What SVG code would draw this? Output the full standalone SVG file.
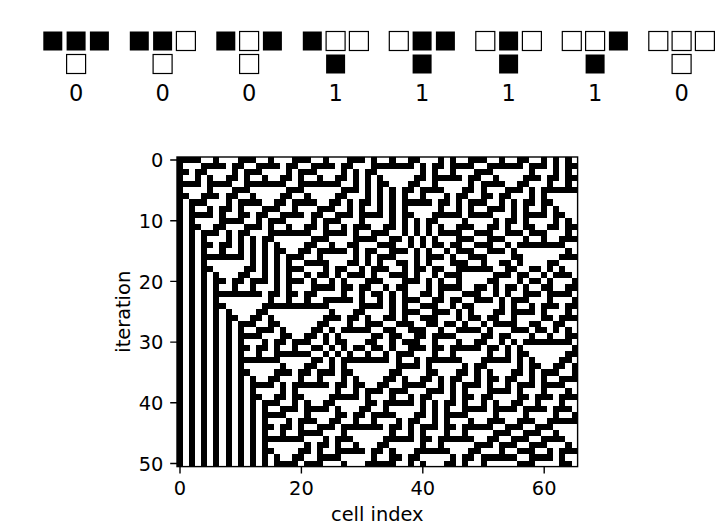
<svg xmlns="http://www.w3.org/2000/svg" width="720" height="528" viewBox="0 0 720 528">
<style>
text{font-family:"DejaVu Sans","Liberation Sans",sans-serif;fill:#000}
.tk{font-size:19.4px}
.lg{font-size:22.5px;text-anchor:middle}
.w{fill:#fff;stroke:#000;stroke-width:1.2}
.b{fill:#000}
.ax{stroke:#000;stroke-width:1.4;fill:none}
.ca{fill:none;stroke:#000;stroke-width:1;shape-rendering:crispEdges}
</style>
<defs>
<rect id="sq" width="19" height="19"/>
</defs>
<rect width="720" height="528" fill="#fff"/>
<g id="rule-111" transform="translate(43.3,31.5)"><use href="#sq" class="b"/><use href="#sq" x="23.3" class="b"/><use href="#sq" x="46.6" class="b"/><use href="#sq" x="23.3" y="23" class="w"/><text class="lg" x="32.8" y="69.5">0</text></g>
<g id="rule-110" transform="translate(129.8,31.5)"><use href="#sq" class="b"/><use href="#sq" x="23.3" class="b"/><use href="#sq" x="46.6" class="w"/><use href="#sq" x="23.3" y="23" class="w"/><text class="lg" x="32.8" y="69.5">0</text></g>
<g id="rule-101" transform="translate(216.3,31.5)"><use href="#sq" class="b"/><use href="#sq" x="23.3" class="w"/><use href="#sq" x="46.6" class="b"/><use href="#sq" x="23.3" y="23" class="w"/><text class="lg" x="32.8" y="69.5">0</text></g>
<g id="rule-100" transform="translate(302.8,31.5)"><use href="#sq" class="b"/><use href="#sq" x="23.3" class="w"/><use href="#sq" x="46.6" class="w"/><use href="#sq" x="23.3" y="23" class="b"/><text class="lg" x="32.8" y="69.5">1</text></g>
<g id="rule-011" transform="translate(389.3,31.5)"><use href="#sq" class="w"/><use href="#sq" x="23.3" class="b"/><use href="#sq" x="46.6" class="b"/><use href="#sq" x="23.3" y="23" class="b"/><text class="lg" x="32.8" y="69.5">1</text></g>
<g id="rule-010" transform="translate(475.8,31.5)"><use href="#sq" class="w"/><use href="#sq" x="23.3" class="b"/><use href="#sq" x="46.6" class="w"/><use href="#sq" x="23.3" y="23" class="b"/><text class="lg" x="32.8" y="69.5">1</text></g>
<g id="rule-001" transform="translate(562.3,31.5)"><use href="#sq" class="w"/><use href="#sq" x="23.3" class="w"/><use href="#sq" x="46.6" class="b"/><use href="#sq" x="23.3" y="23" class="b"/><text class="lg" x="32.8" y="69.5">1</text></g>
<g id="rule-000" transform="translate(648.8,31.5)"><use href="#sq" class="w"/><use href="#sq" x="23.3" class="w"/><use href="#sq" x="46.6" class="w"/><use href="#sq" x="23.3" y="23" class="w"/><text class="lg" x="32.8" y="69.5">0</text></g>
<g id="plot">
<rect x="177" y="157" width="400.6" height="309.6" fill="#fff"/>
<g id="cells" transform="translate(177,157) scale(6.07)">
<path class="ca" d="M0 .5h4M6 .5h1M10 .5h3M15 .5h1M19 .5h3M24 .5h1M28 .5h3M32 .5h1M35 .5h1M38 .5h2M43 .5h1M45 .5h1M48 .5h3M53 .5h1M56 .5h2M60 .5h1M62 .5h1M64 .5h1
M0 1.5h1M4 1.5h4M9 1.5h2M13 1.5h4M18 1.5h2M22 1.5h4M27 1.5h2M32 1.5h7M40 1.5h1M42 1.5h2M45 1.5h4M51 1.5h6M58 1.5h3M62 1.5h1M64 1.5h2
M0 2.5h2M3 2.5h2M9 2.5h1M11 2.5h3M18 2.5h1M20 2.5h3M27 2.5h1M29 2.5h1M31 2.5h2M40 2.5h1M42 2.5h1M45 2.5h1M49 2.5h3M58 2.5h1M62 2.5h1M64 2.5h1
M0 3.5h1M3 3.5h1M5 3.5h1M8 3.5h2M11 3.5h1M14 3.5h1M17 3.5h2M20 3.5h1M23 3.5h1M26 3.5h2M29 3.5h1M31 3.5h1M33 3.5h1M39 3.5h2M42 3.5h5M48 3.5h2M52 3.5h1M57 3.5h3M61 3.5h2M64 3.5h2
M0 4.5h4M5 4.5h4M11 4.5h7M20 4.5h7M29 4.5h1M31 4.5h1M33 4.5h2M38 4.5h2M42 4.5h1M48 4.5h1M50 4.5h4M56 4.5h2M61 4.5h1M64 4.5h1
M0 5.5h1M5 5.5h1M9 5.5h3M18 5.5h3M27 5.5h3M31 5.5h1M33 5.5h1M35 5.5h1M37 5.5h2M40 5.5h4M47 5.5h2M50 5.5h1M54 5.5h3M58 5.5h1M60 5.5h6
M0 6.5h2M4 6.5h3M8 6.5h2M12 6.5h1M17 6.5h2M21 6.5h1M26 6.5h2M31 6.5h1M33 6.5h1M35 6.5h1M37 6.5h1M40 6.5h1M44 6.5h1M46 6.5h2M50 6.5h2M53 6.5h2M58 6.5h1M60 6.5h1
M0 7.5h1M2 7.5h3M8 7.5h1M10 7.5h4M16 7.5h2M19 7.5h4M25 7.5h2M28 7.5h1M30 7.5h2M33 7.5h1M35 7.5h1M37 7.5h5M43 7.5h2M46 7.5h1M48 7.5h3M53 7.5h1M55 7.5h1M57 7.5h2M60 7.5h2
M0 8.5h1M2 8.5h1M5 8.5h1M7 8.5h2M10 8.5h1M14 8.5h3M19 8.5h1M23 8.5h3M28 8.5h1M30 8.5h1M33 8.5h1M35 8.5h1M37 8.5h1M43 8.5h1M46 8.5h1M48 8.5h1M51 8.5h3M55 8.5h1M57 8.5h1M60 8.5h1M62 8.5h1
M0 9.5h1M2 9.5h4M7 9.5h1M10 9.5h2M13 9.5h2M17 9.5h4M22 9.5h2M26 9.5h3M30 9.5h4M35 9.5h1M37 9.5h2M42 9.5h5M48 9.5h4M55 9.5h1M57 9.5h4M62 9.5h2
M0 10.5h1M2 10.5h1M7 10.5h4M13 10.5h1M15 10.5h3M22 10.5h1M24 10.5h3M30 10.5h1M35 10.5h1M37 10.5h1M39 10.5h1M41 10.5h2M47 10.5h1M52 10.5h1M54 10.5h2M57 10.5h1M62 10.5h1M64 10.5h1
M0 11.5h1M2 11.5h2M6 11.5h2M11 11.5h3M15 11.5h1M18 11.5h1M21 11.5h2M24 11.5h1M27 11.5h1M29 11.5h3M34 11.5h2M37 11.5h1M39 11.5h1M41 11.5h1M43 11.5h1M46 11.5h3M51 11.5h2M54 11.5h1M57 11.5h2M61 11.5h2M64 11.5h2
M0 12.5h1M2 12.5h1M4 12.5h3M8 12.5h1M10 12.5h2M15 12.5h7M24 12.5h4M29 12.5h1M32 12.5h3M37 12.5h1M39 12.5h1M41 12.5h1M43 12.5h4M49 12.5h3M54 12.5h3M58 12.5h3M64 12.5h1
M0 13.5h1M2 13.5h1M4 13.5h1M8 13.5h1M10 13.5h1M12 13.5h1M14 13.5h2M22 13.5h3M29 13.5h4M35 13.5h2M38 13.5h1M40 13.5h1M42 13.5h1M46 13.5h3M51 13.5h3M57 13.5h1M60 13.5h1M63 13.5h3
M0 14.5h1M2 14.5h1M4 14.5h2M7 14.5h2M10 14.5h1M12 14.5h1M14 14.5h1M16 14.5h1M21 14.5h2M25 14.5h1M28 14.5h2M33 14.5h3M38 14.5h1M40 14.5h1M42 14.5h2M45 14.5h2M49 14.5h3M54 14.5h1M56 14.5h8
M0 15.5h1M2 15.5h1M4 15.5h1M7 15.5h1M10 15.5h1M12 15.5h1M14 15.5h1M16 15.5h2M20 15.5h2M23 15.5h5M29 15.5h1M31 15.5h2M35 15.5h3M39 15.5h1M41 15.5h1M44 15.5h1M46 15.5h3M51 15.5h3M55 15.5h1M64 15.5h1
M0 16.5h1M2 16.5h1M4 16.5h7M12 16.5h1M14 16.5h1M16 16.5h1M18 16.5h3M23 16.5h1M29 16.5h1M31 16.5h1M33 16.5h3M39 16.5h1M41 16.5h3M45 16.5h1M48 16.5h3M55 16.5h2M63 16.5h3
M0 17.5h1M2 17.5h1M4 17.5h1M12 17.5h1M14 17.5h1M16 17.5h1M18 17.5h1M21 17.5h4M28 17.5h2M31 17.5h1M33 17.5h1M36 17.5h2M39 17.5h1M41 17.5h1M45 17.5h3M50 17.5h1M53 17.5h2M56 17.5h1M61 17.5h2
M0 18.5h1M2 18.5h1M4 18.5h2M11 18.5h2M14 18.5h1M16 18.5h1M18 18.5h3M24 18.5h1M26 18.5h2M30 18.5h1M32 18.5h3M37 18.5h1M39 18.5h2M42 18.5h2M46 18.5h6M54 18.5h2M58 18.5h2M61 18.5h1M63 18.5h1
M0 19.5h1M2 19.5h1M4 19.5h1M6 19.5h1M10 19.5h2M14 19.5h1M16 19.5h1M18 19.5h1M21 19.5h1M23 19.5h2M26 19.5h1M28 19.5h3M32 19.5h1M35 19.5h3M39 19.5h1M42 19.5h1M44 19.5h3M52 19.5h3M56 19.5h2M60 19.5h1M62 19.5h3
M0 20.5h1M2 20.5h1M4 20.5h1M6 20.5h2M9 20.5h2M12 20.5h3M16 20.5h1M18 20.5h3M22 20.5h1M25 20.5h1M27 20.5h1M31 20.5h3M37 20.5h3M41 20.5h1M43 20.5h1M46 20.5h1M51 20.5h2M56 20.5h1M58 20.5h2M61 20.5h1M65 20.5h1
M0 21.5h1M2 21.5h1M4 21.5h1M6 21.5h1M9 21.5h1M12 21.5h1M16 21.5h1M18 21.5h1M22 21.5h4M27 21.5h2M30 21.5h2M34 21.5h1M36 21.5h2M41 21.5h1M43 21.5h4M49 21.5h2M52 21.5h1M54 21.5h2M57 21.5h1M60 21.5h2M64 21.5h2
M0 22.5h1M2 22.5h1M4 22.5h1M6 22.5h8M15 22.5h2M18 22.5h2M21 22.5h2M27 22.5h1M30 22.5h1M32 22.5h2M35 22.5h1M37 22.5h1M40 22.5h2M43 22.5h1M47 22.5h3M52 22.5h1M54 22.5h1M57 22.5h3M61 22.5h4
M0 23.5h1M2 23.5h1M4 23.5h1M6 23.5h1M15 23.5h1M18 23.5h1M21 23.5h1M24 23.5h5M30 23.5h1M33 23.5h1M35 23.5h1M37 23.5h3M42 23.5h2M45 23.5h2M49 23.5h3M53 23.5h1M55 23.5h3M61 23.5h1M65 23.5h1
M0 24.5h1M2 24.5h1M4 24.5h1M6 24.5h2M14 24.5h11M30 24.5h4M35 24.5h1M37 24.5h1M40 24.5h3M45 24.5h1M47 24.5h2M53 24.5h1M55 24.5h1M58 24.5h1M60 24.5h3M64 24.5h2
M0 25.5h1M2 25.5h1M4 25.5h1M6 25.5h1M8 25.5h1M13 25.5h2M25 25.5h1M29 25.5h2M35 25.5h1M37 25.5h3M42 25.5h3M46 25.5h1M48 25.5h1M52 25.5h2M55 25.5h4M60 25.5h1M64 25.5h1
M0 26.5h1M2 26.5h1M4 26.5h1M6 26.5h1M8 26.5h2M12 26.5h2M15 26.5h1M24 26.5h3M28 26.5h2M31 26.5h1M34 26.5h2M37 26.5h1M40 26.5h3M46 26.5h1M48 26.5h2M51 26.5h2M55 26.5h1M60 26.5h2M63 26.5h3
M0 27.5h1M2 27.5h1M4 27.5h1M6 27.5h1M8 27.5h1M10 27.5h3M15 27.5h2M23 27.5h2M28 27.5h1M31 27.5h3M36 27.5h3M41 27.5h2M44 27.5h2M47 27.5h1M50 27.5h1M52 27.5h4M58 27.5h2M62 27.5h2
M0 28.5h1M2 28.5h1M4 28.5h1M6 28.5h1M8 28.5h1M10 28.5h1M13 28.5h3M17 28.5h1M22 28.5h2M25 28.5h1M27 28.5h5M34 28.5h2M38 28.5h3M43 28.5h1M46 28.5h4M51 28.5h1M55 28.5h3M59 28.5h2M62 28.5h1M64 28.5h1
M0 29.5h1M2 29.5h1M4 29.5h1M6 29.5h1M8 29.5h1M10 29.5h4M17 29.5h2M21 29.5h2M24 29.5h1M26 29.5h1M32 29.5h2M35 29.5h2M39 29.5h2M42 29.5h4M50 29.5h2M53 29.5h2M58 29.5h1M61 29.5h1M64 29.5h2
M0 30.5h1M2 30.5h1M4 30.5h1M6 30.5h1M8 30.5h1M10 30.5h1M14 30.5h1M16 30.5h2M19 30.5h3M24 30.5h1M26 30.5h2M31 30.5h2M35 30.5h1M37 30.5h3M42 30.5h1M46 30.5h1M49 30.5h2M53 30.5h1M55 30.5h1M57 30.5h8
M0 31.5h1M2 31.5h1M4 31.5h1M6 31.5h1M8 31.5h1M10 31.5h2M13 31.5h2M16 31.5h1M19 31.5h1M22 31.5h2M25 31.5h1M27 31.5h1M29 31.5h2M32 31.5h2M35 31.5h1M38 31.5h3M42 31.5h2M45 31.5h5M51 31.5h2M54 31.5h1M56 31.5h1M65 31.5h1
M0 32.5h1M2 32.5h1M4 32.5h1M6 32.5h1M8 32.5h1M10 32.5h1M13 32.5h1M16 32.5h6M24 32.5h1M26 32.5h1M28 32.5h1M31 32.5h1M34 32.5h1M36 32.5h3M42 32.5h1M45 32.5h1M51 32.5h1M54 32.5h1M56 32.5h2M64 32.5h2
M0 33.5h1M2 33.5h1M4 33.5h1M6 33.5h1M8 33.5h1M10 33.5h7M22 33.5h2M25 33.5h1M27 33.5h8M36 33.5h1M39 33.5h1M41 33.5h6M50 33.5h5M56 33.5h1M58 33.5h1M63 33.5h2
M0 34.5h1M2 34.5h1M4 34.5h1M6 34.5h1M8 34.5h1M10 34.5h1M17 34.5h1M21 34.5h2M25 34.5h1M27 34.5h1M36 34.5h4M41 34.5h1M47 34.5h1M49 34.5h2M56 34.5h1M58 34.5h2M62 34.5h2M65 34.5h1
M0 35.5h1M2 35.5h1M4 35.5h1M6 35.5h1M8 35.5h1M10 35.5h2M16 35.5h3M20 35.5h2M23 35.5h3M27 35.5h2M35 35.5h2M41 35.5h2M46 35.5h2M49 35.5h1M51 35.5h1M55 35.5h2M58 35.5h1M60 35.5h3M65 35.5h1
M0 36.5h1M2 36.5h1M4 36.5h1M6 36.5h1M8 36.5h1M10 36.5h1M12 36.5h1M15 36.5h2M20 36.5h1M23 36.5h1M27 36.5h1M29 36.5h1M34 36.5h2M37 36.5h1M40 36.5h2M43 36.5h1M45 36.5h2M49 36.5h1M51 36.5h2M54 36.5h2M58 36.5h1M60 36.5h1M63 36.5h3
M0 37.5h1M2 37.5h1M4 37.5h1M6 37.5h1M8 37.5h1M10 37.5h1M12 37.5h4M17 37.5h1M19 37.5h6M26 37.5h2M29 37.5h2M33 37.5h2M37 37.5h4M43 37.5h1M45 37.5h1M47 37.5h3M51 37.5h1M54 37.5h1M56 37.5h3M60 37.5h4
M0 38.5h1M2 38.5h1M4 38.5h1M6 38.5h1M8 38.5h1M10 38.5h1M12 38.5h1M17 38.5h1M19 38.5h1M26 38.5h1M29 38.5h1M31 38.5h3M35 38.5h3M41 38.5h3M45 38.5h1M47 38.5h1M51 38.5h4M56 38.5h1M60 38.5h1M64 38.5h1
M0 39.5h1M2 39.5h1M4 39.5h1M6 39.5h1M8 39.5h1M10 39.5h1M12 39.5h2M16 39.5h2M19 39.5h2M25 39.5h5M31 39.5h1M35 39.5h1M38 39.5h1M40 39.5h2M45 39.5h1M47 39.5h2M50 39.5h2M56 39.5h2M59 39.5h3M63 39.5h3
M0 40.5h1M2 40.5h1M4 40.5h1M6 40.5h1M8 40.5h1M10 40.5h1M12 40.5h1M14 40.5h3M19 40.5h1M21 40.5h1M24 40.5h2M31 40.5h2M34 40.5h5M40 40.5h1M42 40.5h1M44 40.5h2M47 40.5h1M50 40.5h1M52 40.5h1M55 40.5h2M59 40.5h1M63 40.5h1
M0 41.5h1M2 41.5h1M4 41.5h1M6 41.5h1M8 41.5h1M10 41.5h1M12 41.5h1M14 41.5h1M17 41.5h3M21 41.5h4M26 41.5h1M30 41.5h2M34 41.5h1M40 41.5h1M42 41.5h1M44 41.5h1M47 41.5h4M52 41.5h4M57 41.5h4M62 41.5h3
M0 42.5h1M2 42.5h1M4 42.5h1M6 42.5h1M8 42.5h1M10 42.5h1M12 42.5h1M14 42.5h4M21 42.5h1M26 42.5h2M29 42.5h2M32 42.5h4M39 42.5h2M42 42.5h1M44 42.5h4M52 42.5h1M57 42.5h1M62 42.5h1M65 42.5h1
M0 43.5h1M2 43.5h1M4 43.5h1M6 43.5h1M8 43.5h1M10 43.5h1M12 43.5h1M14 43.5h1M18 43.5h1M20 43.5h3M25 43.5h2M29 43.5h1M32 43.5h1M36 43.5h1M38 43.5h2M42 43.5h1M44 43.5h1M48 43.5h1M51 43.5h3M56 43.5h3M61 43.5h5
M0 44.5h1M2 44.5h1M4 44.5h1M6 44.5h1M8 44.5h1M10 44.5h1M12 44.5h1M14 44.5h2M17 44.5h2M20 44.5h1M23 44.5h3M27 44.5h7M35 44.5h2M38 44.5h1M40 44.5h3M44 44.5h2M47 44.5h5M54 44.5h3M59 44.5h3
M0 45.5h1M2 45.5h1M4 45.5h1M6 45.5h1M8 45.5h1M10 45.5h1M12 45.5h1M14 45.5h1M17 45.5h1M20 45.5h4M27 45.5h1M35 45.5h1M38 45.5h1M40 45.5h1M44 45.5h1M47 45.5h1M52 45.5h3M57 45.5h3M62 45.5h1
M0 46.5h1M2 46.5h1M4 46.5h1M6 46.5h1M8 46.5h1M10 46.5h1M12 46.5h1M14 46.5h7M24 46.5h1M26 46.5h3M34 46.5h5M40 46.5h2M43 46.5h6M51 46.5h2M55 46.5h3M60 46.5h4
M0 47.5h1M2 47.5h1M4 47.5h1M6 47.5h1M8 47.5h1M10 47.5h1M12 47.5h1M14 47.5h1M21 47.5h1M23 47.5h2M26 47.5h1M29 47.5h1M33 47.5h2M40 47.5h1M43 47.5h1M49 47.5h3M53 47.5h3M58 47.5h3M64 47.5h1
M0 48.5h1M2 48.5h1M4 48.5h1M6 48.5h1M8 48.5h1M10 48.5h1M12 48.5h1M14 48.5h2M20 48.5h2M23 48.5h1M26 48.5h5M32 48.5h2M35 48.5h1M39 48.5h6M48 48.5h2M53 48.5h1M56 48.5h3M61 48.5h1M63 48.5h3
M0 49.5h1M2 49.5h1M4 49.5h1M6 49.5h1M8 49.5h1M10 49.5h1M12 49.5h1M14 49.5h1M16 49.5h1M19 49.5h2M23 49.5h4M32 49.5h1M35 49.5h2M38 49.5h2M45 49.5h1M47 49.5h2M50 49.5h6M58 49.5h4M63 49.5h1
M0 50.5h1M2 50.5h1M4 50.5h1M6 50.5h1M8 50.5h1M10 50.5h1M12 50.5h1M14 50.5h1M16 50.5h4M21 50.5h3M27 50.5h1M31 50.5h5M38 50.5h1M40 50.5h1M44 50.5h2M47 50.5h1M50 50.5h1M56 50.5h3M63 50.5h2"/>
</g>
<rect class="ax" x="177" y="157" width="400.6" height="309.6"/>
</g>
<g id="axes" class="ax">
<path d="M180 466.6v6.8M301.4 466.6v6.8M422.8 466.6v6.8M544.2 466.6v6.8M177 160h-6.8M177 220.7h-6.8M177 281.4h-6.8M177 342.1h-6.8M177 402.8h-6.8M177 463.5h-6.8"/>
</g>
<g id="ticklabels" class="tk">
<text x="180" y="495" text-anchor="middle">0</text>
<text x="301.4" y="495" text-anchor="middle">20</text>
<text x="422.8" y="495" text-anchor="middle">40</text>
<text x="544.2" y="495" text-anchor="middle">60</text>
<text x="163.4" y="167.1" text-anchor="end">0</text>
<text x="163.4" y="227.8" text-anchor="end">10</text>
<text x="163.4" y="288.5" text-anchor="end">20</text>
<text x="163.4" y="349.2" text-anchor="end">30</text>
<text x="163.4" y="409.9" text-anchor="end">40</text>
<text x="163.4" y="470.6" text-anchor="end">50</text>
<text x="377.3" y="521" text-anchor="middle">cell index</text>
<text transform="translate(129.5,311.8) rotate(-90)" text-anchor="middle">iteration</text>
</g>
</svg>
